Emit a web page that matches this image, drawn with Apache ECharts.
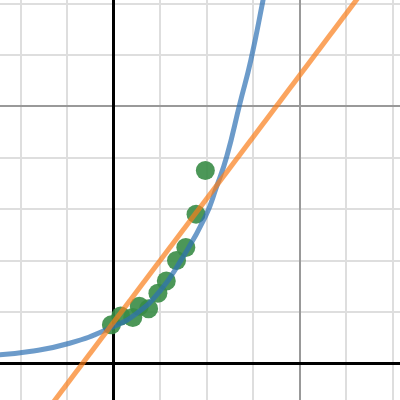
<!DOCTYPE html>
<html>
<head>
<meta charset="utf-8">
<script src="https://cdn.jsdelivr.net/npm/echarts@6/dist/echarts.min.js"></script>
<style>
html, body { margin: 0; padding: 0; background: #fff; }
#chart { width: 400px; height: 400px; }
</style>
</head>
<body>
<div id="chart"></div>
<script>
// ── visible window ──
var xRange = [-1.218, 3.083];
var yRange = [-0.714, 7.064];

// ── grid lines ──
var xMinorLines = [-1, -0.5, 0.5, 1, 1.5, 2.5, 3];
var xMajorLines = [2];
var yMinorLines = [1, 2, 3, 4, 6, 7];
var yMajorLines = [5];

// ── data points ──
var pointX = [-0.02, 0.08, 0.21, 0.28, 0.38, 0.48, 0.57, 0.68, 0.78, 0.89, 0.99];
var pointY = [0.75, 0.92, 0.89, 1.11, 1.06, 1.36, 1.60, 2.00, 2.25, 2.90, 3.75];

// ── exponential fit ──
var expX = [-1.3, -0.9, -0.47, -0.04, 0.25, 0.5, 0.73, 0.99, 1.11, 1.22, 1.36, 1.48, 1.61, 1.7];
var expY = [0.16, 0.23, 0.39, 0.68, 0.97, 1.40, 2.01, 2.85, 3.43, 4.02, 5.04, 5.90, 7.06, 7.9];

// ── linear fit ──
var fitX = [-0.7, 2.7];
var fitY = [-0.89, 7.27];

function zip(xs, ys) {
    return xs.map(function (x, i) { return [x, ys[i]]; });
}

var minorStyle = { color: '#dedede', width: 2, type: 'solid' };
var majorStyle = { color: '#999999', width: 2, type: 'solid' };
var axisStyle = { color: '#000000', width: 3, type: 'solid' };

var gridLines = []
    .concat(xMinorLines.map(function (v) { return { xAxis: v, lineStyle: minorStyle }; }))
    .concat(yMinorLines.map(function (v) { return { yAxis: v, lineStyle: minorStyle }; }))
    .concat(xMajorLines.map(function (v) { return { xAxis: v, lineStyle: majorStyle }; }))
    .concat(yMajorLines.map(function (v) { return { yAxis: v, lineStyle: majorStyle }; }))
    .concat([{ xAxis: 0, lineStyle: axisStyle }, { yAxis: 0, lineStyle: axisStyle }]);

var chart = echarts.init(document.getElementById('chart'));
chart.setOption({
    animation: false,
    backgroundColor: '#fff',
    grid: { left: 0, right: 0, top: 0, bottom: 0 },
    xAxis: {
        type: 'value', min: xRange[0], max: xRange[1],
        axisLine: { show: false }, axisTick: { show: false },
        axisLabel: { show: false }, splitLine: { show: false },
    },
    yAxis: {
        type: 'value', min: yRange[0], max: yRange[1],
        axisLine: { show: false }, axisTick: { show: false },
        axisLabel: { show: false }, splitLine: { show: false },
    },
    series: [
        {
            name: 'grid',
            type: 'line',
            data: [],
            z: 0,
            silent: true,
            markLine: {
                z: 0,
                silent: true,
                symbol: ['none', 'none'],
                label: { show: false },
                emphasis: { disabled: true },
                data: gridLines,
            },
        },
        {
            name: 'points',
            type: 'scatter',
            z: 2,
            symbolSize: 19,
            itemStyle: { color: '#388c46', opacity: 0.9 },
            data: zip(pointX, pointY),
        },
        {
            name: 'exp',
            type: 'line',
            z: 3,
            smooth: 0.5,
            showSymbol: false,
            lineStyle: { color: '#2d70b3', width: 5, opacity: 0.7 },
            data: zip(expX, expY),
        },
        {
            name: 'linear',
            type: 'line',
            z: 4,
            showSymbol: false,
            lineStyle: { color: '#fa7e19', width: 5, opacity: 0.7 },
            data: zip(fitX, fitY),
        },
    ],
});
</script>
</body>
</html>
